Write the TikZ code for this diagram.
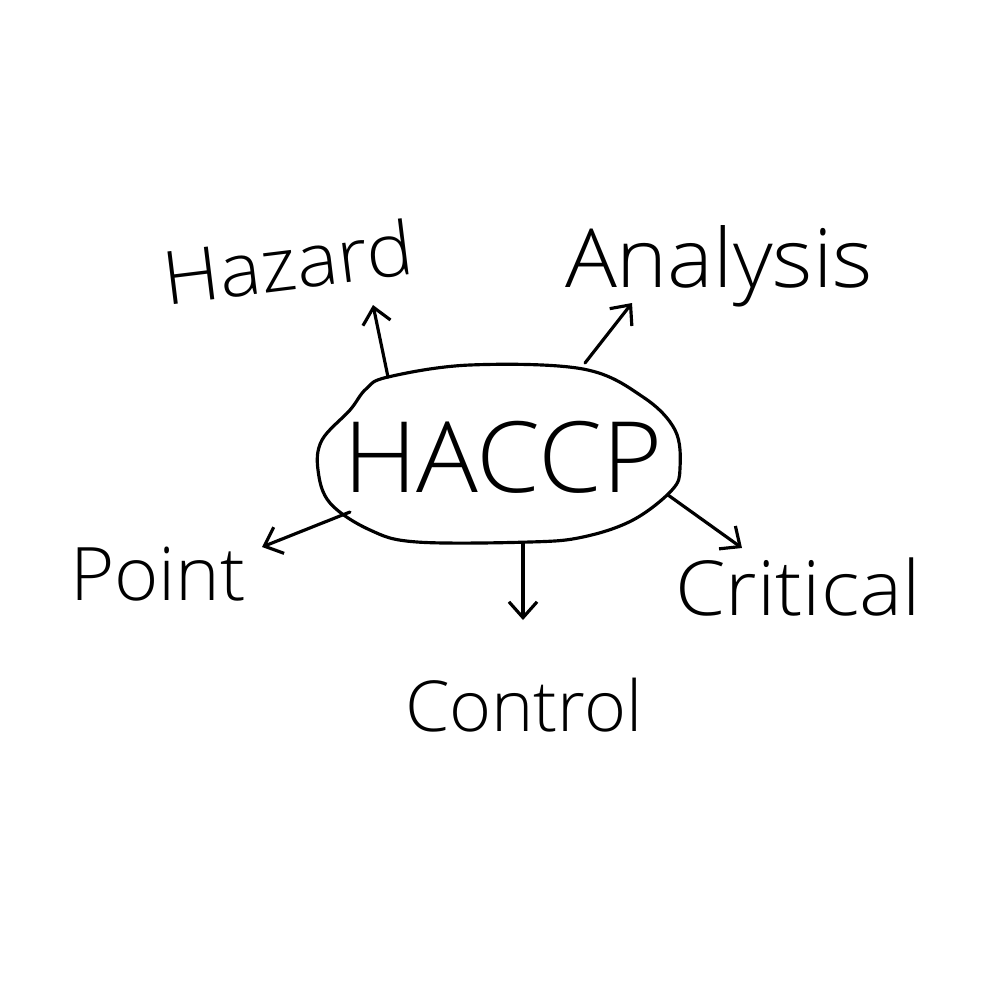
\documentclass[tikz,border=0pt]{standalone}
\usepackage{fontspec}
\usepackage{graphicx}
\setmainfont{Open Sans}[UprightFont=* Light]
\usetikzlibrary{arrows.meta}
\newcommand{\wideby}[2]{\scalebox{#1}[1]{#2}}
\begin{document}
\begin{tikzpicture}[x=0.01cm,y=-0.01cm,
  hand/.style={line width=0.9pt,line cap=round,line join=round},
  link/.style={hand,-{Straight Barb[length=4.5pt,width=8pt,line width=0.9pt]}},
  word/.style={anchor=base west,inner sep=0pt,outer sep=0pt}]
\useasboundingbox[fill=white] (0,0) rectangle (1000,1000);
% labels
\node[word,font=\fontsize{21.1pt}{24pt}\selectfont,rotate=7] (hazard) at (166,305) {\wideby{1.06}{Hazard}};
\node[word,font=\fontsize{23.2pt}{26pt}\selectfont] (analysis) at (565,287) {\wideby{1.06}{Analysis}};
\node[word,font=\fontsize{21pt}{24pt}\selectfont] (point) at (70,600) {\wideby{1.025}{Point}};
\node[word,font=\fontsize{21.6pt}{24pt}\selectfont] (critical) at (675,615) {\wideby{1.07}{Critical}};
\node[word,font=\fontsize{20pt}{24pt}\selectfont] (control) at (405,731) {\wideby{1.02}{Control}};
\node[word,font=\fontsize{28pt}{30pt}\selectfont] (haccp) at (343,492) {\wideby{1.045}{HACCP}};
% hand drawn outline
\draw[hand] plot[smooth cycle,tension=0.6] coordinates {
  (388,377) (470,365) (583,369) (643,397) (675,430) (680,468)
  (672,490) (633,520) (583,537) (530,542) (417,542) (370,530)
  (330,503) (318,470) (322,440) (350,410) (366,389)};
% connector ends
\coordinate (hs) at (388,377); \coordinate (he) at (373,305);
\coordinate (as) at (585,363); \coordinate (ae) at (632,303);
\coordinate (ps) at (350,512); \coordinate (pe) at (262,547);
\coordinate (cs) at (523,543); \coordinate (ce) at (523,620);
\coordinate (ks) at (668,495); \coordinate (ke) at (742,548);
\draw[link] (hs) -- (he);
\draw[link] (as) -- (ae);
\draw[link] (ps) -- (pe);
\draw[link] (cs) -- (ce);
\draw[link] (ks) -- (ke);
\end{tikzpicture}
\end{document}
